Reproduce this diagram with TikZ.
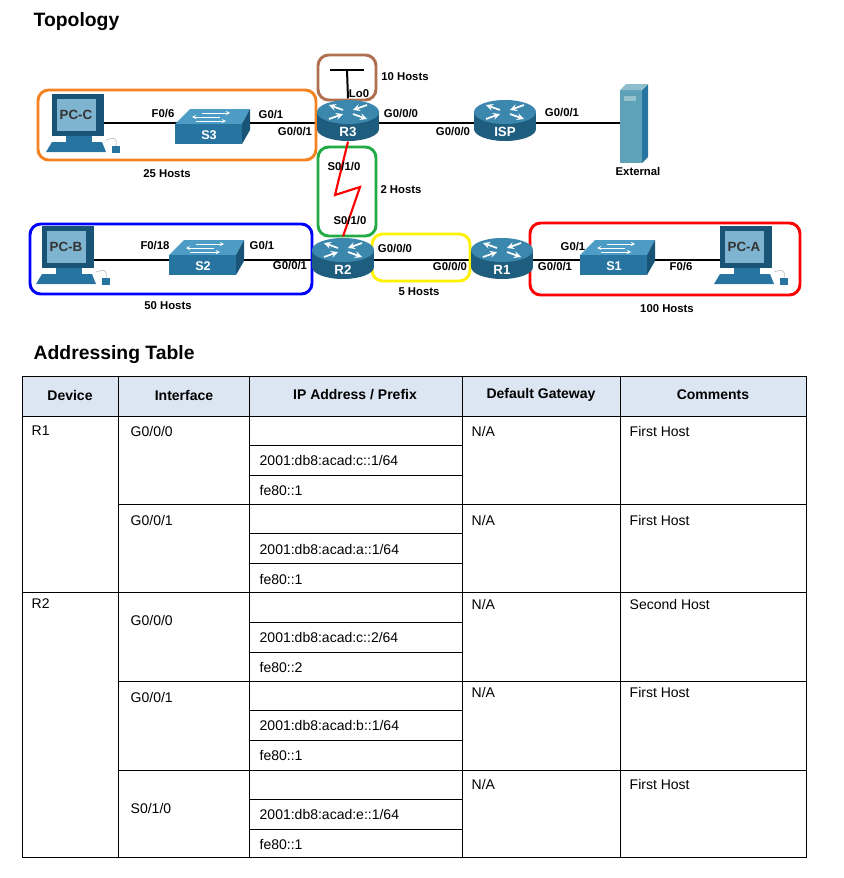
\documentclass[tikz,border=0pt]{standalone}
\usepackage{fontspec}
\setmainfont{Liberation Sans}
\usetikzlibrary{backgrounds}
\definecolor{rtop}{HTML}{3C87AE}
\definecolor{rbody}{HTML}{1E5D7E}
\definecolor{swfront}{HTML}{2774A0}
\definecolor{swtop}{HTML}{4C9CC6}
\definecolor{swside}{HTML}{195477}
\definecolor{scr}{HTML}{7FB4D0}
\definecolor{srv}{HTML}{5EA2B8}
\definecolor{hdr}{HTML}{DCE6F2}
\definecolor{boxorange}{HTML}{F58220}
\definecolor{boxbrown}{HTML}{B07050}
\definecolor{boxgreen}{HTML}{22AA44}
\tikzset{l/.style={font=\fontsize{8.5}{8.5}\selectfont\bfseries}}
\tikzset{t/.style={font=\fontsize{10.5}{12}\selectfont,anchor=west}}
\tikzset{h/.style={font=\fontsize{10.5}{12}\selectfont\bfseries}}
\tikzset{dev/.style={inner sep=0pt,minimum width=#1}}
\tikzset{grp/.style={rounded corners=8pt,line width=2.2pt}}
% router: name, x, y, label
\newcommand{\router}[4]{
  \fill[rbody] (#2-31,#3-8) rectangle (#2+31,#3+9);
  \fill[rbody] (#2,#3+9) ellipse [x radius=31,y radius=12];
  \fill[rtop] (#2,#3-8) ellipse [x radius=31,y radius=12];
  \draw[white,line width=1.3pt,-stealth] (#2-5,#3-10) -- (#2-19,#3-15);
  \draw[white,line width=1.3pt,-stealth] (#2+5,#3-6) -- (#2+19,#3-1);
  \draw[white,line width=1.3pt,-stealth] (#2+19,#3-15) -- (#2+5,#3-10);
  \draw[white,line width=1.3pt,-stealth] (#2-19,#3-1) -- (#2-5,#3-6);
  \node[dev=46pt,minimum height=32pt] (#1) at (#2,#3) {};
  \node[white,font=\fontsize{10}{10}\selectfont\bfseries] at (#2,#3+12) {#4};
}
% switch: name, x, y, label
\newcommand{\switch}[4]{
  \fill[swtop] (#2-37,#3-1) -- (#2-22,#3-16) -- (#2+38,#3-16) -- (#2+30,#3-1) -- cycle;
  \fill[swside] (#2+30,#3-1) -- (#2+38,#3-16) -- (#2+38,#3+5) -- (#2+30,#3+19) -- cycle;
  \fill[swfront] (#2-37,#3-1) rectangle (#2+30,#3+19);
  \draw[white,-stealth] (#2-10,#3-12) -- (#2+18,#3-12);
  \draw[white,-stealth] (#2+8,#3-8) -- (#2-20,#3-8);
  \draw[white,-stealth] (#2-16,#3-4) -- (#2+14,#3-4);
  \node[dev=55pt,minimum height=24pt] (#1) at (#2,#3+1) {};
  \node[white,font=\fontsize{9.5}{9.5}\selectfont\bfseries] at (#2-3,#3+10) {#4};
}
% pc: name, x, y, label
\newcommand{\pc}[4]{
  \fill[swside] (#2-30,#3-32) rectangle (#2+22,#3+10);
  \fill[scr] (#2-25,#3-27) rectangle (#2+14,#3+5);
  \node[font=\fontsize{10}{10}\selectfont\bfseries,text=black!80] at (#2-6,#3-11) {#4};
  \fill[swfront] (#2-16,#3+10) rectangle (#2+10,#3+16);
  \fill[swfront] (#2-30,#3+16) -- (#2+20,#3+16) -- (#2+24,#3+26) -- (#2-36,#3+26) -- cycle;
  \fill[swfront] (#2+30,#3+20) rectangle (#2+38,#3+27);
  \draw[gray!60] (#2+34,#3+20) .. controls (#2+36,#3+10) and (#2+30,#3+12) .. (#2+24,#3+14);
  \node[dev=39pt,minimum height=32pt] (#1) at (#2-4,#3-11) {};
}
\begin{document}
\begin{tikzpicture}[x=0.75pt,y=-0.75pt]
\useasboundingbox (0,0) rectangle (843,878);
\node[anchor=west,font=\fontsize{14.5}{14.5}\selectfont\bfseries] (topo) at (29,22) {Topology};
% group boxes
\draw[grp,boxorange] (38,90) rectangle (316,160);
\draw[grp,blue] (30,224) rectangle (312,294);
\draw[grp,red] (530,223) rectangle (800,295);
\draw[grp,yellow] (372,234) rectangle (470,281);
\draw[grp,boxgreen] (318,147) rectangle (376,236);
\draw[grp,boxbrown] (318,55) rectangle (376,100);
% devices
\pc{pcc}{82}{126}{PC-C}
\pc{pcb}{72}{258}{PC-B}
\pc{pca}{750}{258}{PC-A}
\switch{sw3}{212}{125}{S3}
\switch{sw2}{206}{256}{S2}
\switch{sw1}{617}{256}{S1}
\router{r3}{348}{120}{R3}
\router{isp}{505}{120}{ISP}
\router{r2}{343}{258}{R2}
\router{r1}{502}{258}{R1}
\fill[srv] (620,90) rectangle (642,163);
\fill[swfront] (642,90) -- (648,84) -- (648,157) -- (642,163) -- cycle;
\fill[srv!70!white] (620,90) -- (626,84) -- (648,84) -- (642,90) -- cycle;
\fill[white,opacity=0.35] (624,96) rectangle (636,101);
\node[dev=21pt,minimum height=55pt] (ext) at (634,124) {};
\node[l] (extl) at (638,171) {External};
% loopback
\coordinate (lo) at (347,70);
\draw[line width=1.5pt] (330,70) -- (364,70);
\draw[line width=1.5pt] (lo) -- (r3.north);
\node[l] (lo0) at (359,94) {Lo0};
% links
\begin{scope}[on background layer]
\draw[line width=1.4pt] (pcc.east |- 0,123) -- (r3.west |- 0,123);
\draw[line width=1.4pt] (r3.east |- 0,123) -- (ext.west |- 0,123);
\draw[line width=1.4pt] (pcb.east |- 0,260) -- (r2.west |- 0,260);
\draw[line width=1.4pt] (r2.east |- 0,260) -- (pca.west |- 0,260);
\end{scope}
\draw[red,line width=1.6pt] (r3.south) -- (335,195) -- (360,187) -- (r2.north);
% port labels
\node[l] at (405,77) {10 Hosts};
\node[l] at (163,114) {F0/6};
\node[l] at (271,115) {G0/1};
\node[l] at (295,132) {G0/0/1};
\node[l] at (401,114) {G0/0/0};
\node[l] at (453,132) {G0/0/0};
\node[l] at (562,113) {G0/0/1};
\node[l] at (167,174) {25 Hosts};
\node[l] at (344,167) {S0/1/0};
\node[l] at (401,190) {2 Hosts};
\node[l] at (350,221) {S0/1/0};
\node[l] at (155,246) {F0/18};
\node[l] at (262,246) {G0/1};
\node[l] at (290,266) {G0/0/1};
\node[l] at (395,249) {G0/0/0};
\node[l] at (450,267) {G0/0/0};
\node[l] at (419,292) {5 Hosts};
\node[l] at (573,247) {G0/1};
\node[l] at (555,267) {G0/0/1};
\node[l] at (681,267) {F0/6};
\node[l] at (168,306) {50 Hosts};
\node[l] at (667,309) {100 Hosts};
% table
\node[anchor=west,font=\fontsize{14.5}{14.5}\selectfont\bfseries] (addr) at (29,355) {Addressing Table};
\fill[hdr] (22,376) rectangle (806,416);
\draw (22,376) rectangle (806,857);
\foreach \x in {118,249,462,620} \draw (\x,376) -- (\x,857);
\draw (22,416) -- (806,416);
\draw (22,592) -- (806,592);
\foreach \y in {504,681,770} \draw (118,\y) -- (806,\y);
\foreach \y in {445,475,533,563,622,652,710,740,799,829} \draw (249,\y) -- (462,\y);
\node[h] at (70,395) {Device};
\node[h] at (184,395) {Interface};
\node[h] at (355,395) {IP Address / Prefix};
\node[h] at (541,395) {Default Gateway};
\node[h] at (713,395) {Comments};
\node[t] at (27,431) {R1};
\node[t] at (27,604) {R2};
\node[t] at (126,431) {G0/0/0};
\node[t] at (126,520) {G0/0/1};
\node[t] at (126,620) {G0/0/0};
\node[t] at (126,697) {G0/0/1};
\node[t] at (126,808) {S0/1/0};
\node[t] at (255,460) {2001:db8:acad:c::1/64};
\node[t] at (255,490) {fe80::1};
\node[t] at (255,549) {2001:db8:acad:a::1/64};
\node[t] at (255,579) {fe80::1};
\node[t] at (255,637) {2001:db8:acad:c::2/64};
\node[t] at (255,667) {fe80::2};
\node[t] at (255,725) {2001:db8:acad:b::1/64};
\node[t] at (255,755) {fe80::1};
\node[t] at (255,814) {2001:db8:acad:e::1/64};
\node[t] at (255,844) {fe80::1};
\foreach \y in {431,520,604,692,784} {
  \node[t] at (467,\y) {N/A};
}
\node[t] at (625,431) {First Host};
\node[t] at (625,520) {First Host};
\node[t] at (625,604) {Second Host};
\node[t] at (625,692) {First Host};
\node[t] at (625,784) {First Host};
\end{tikzpicture}
\end{document}
